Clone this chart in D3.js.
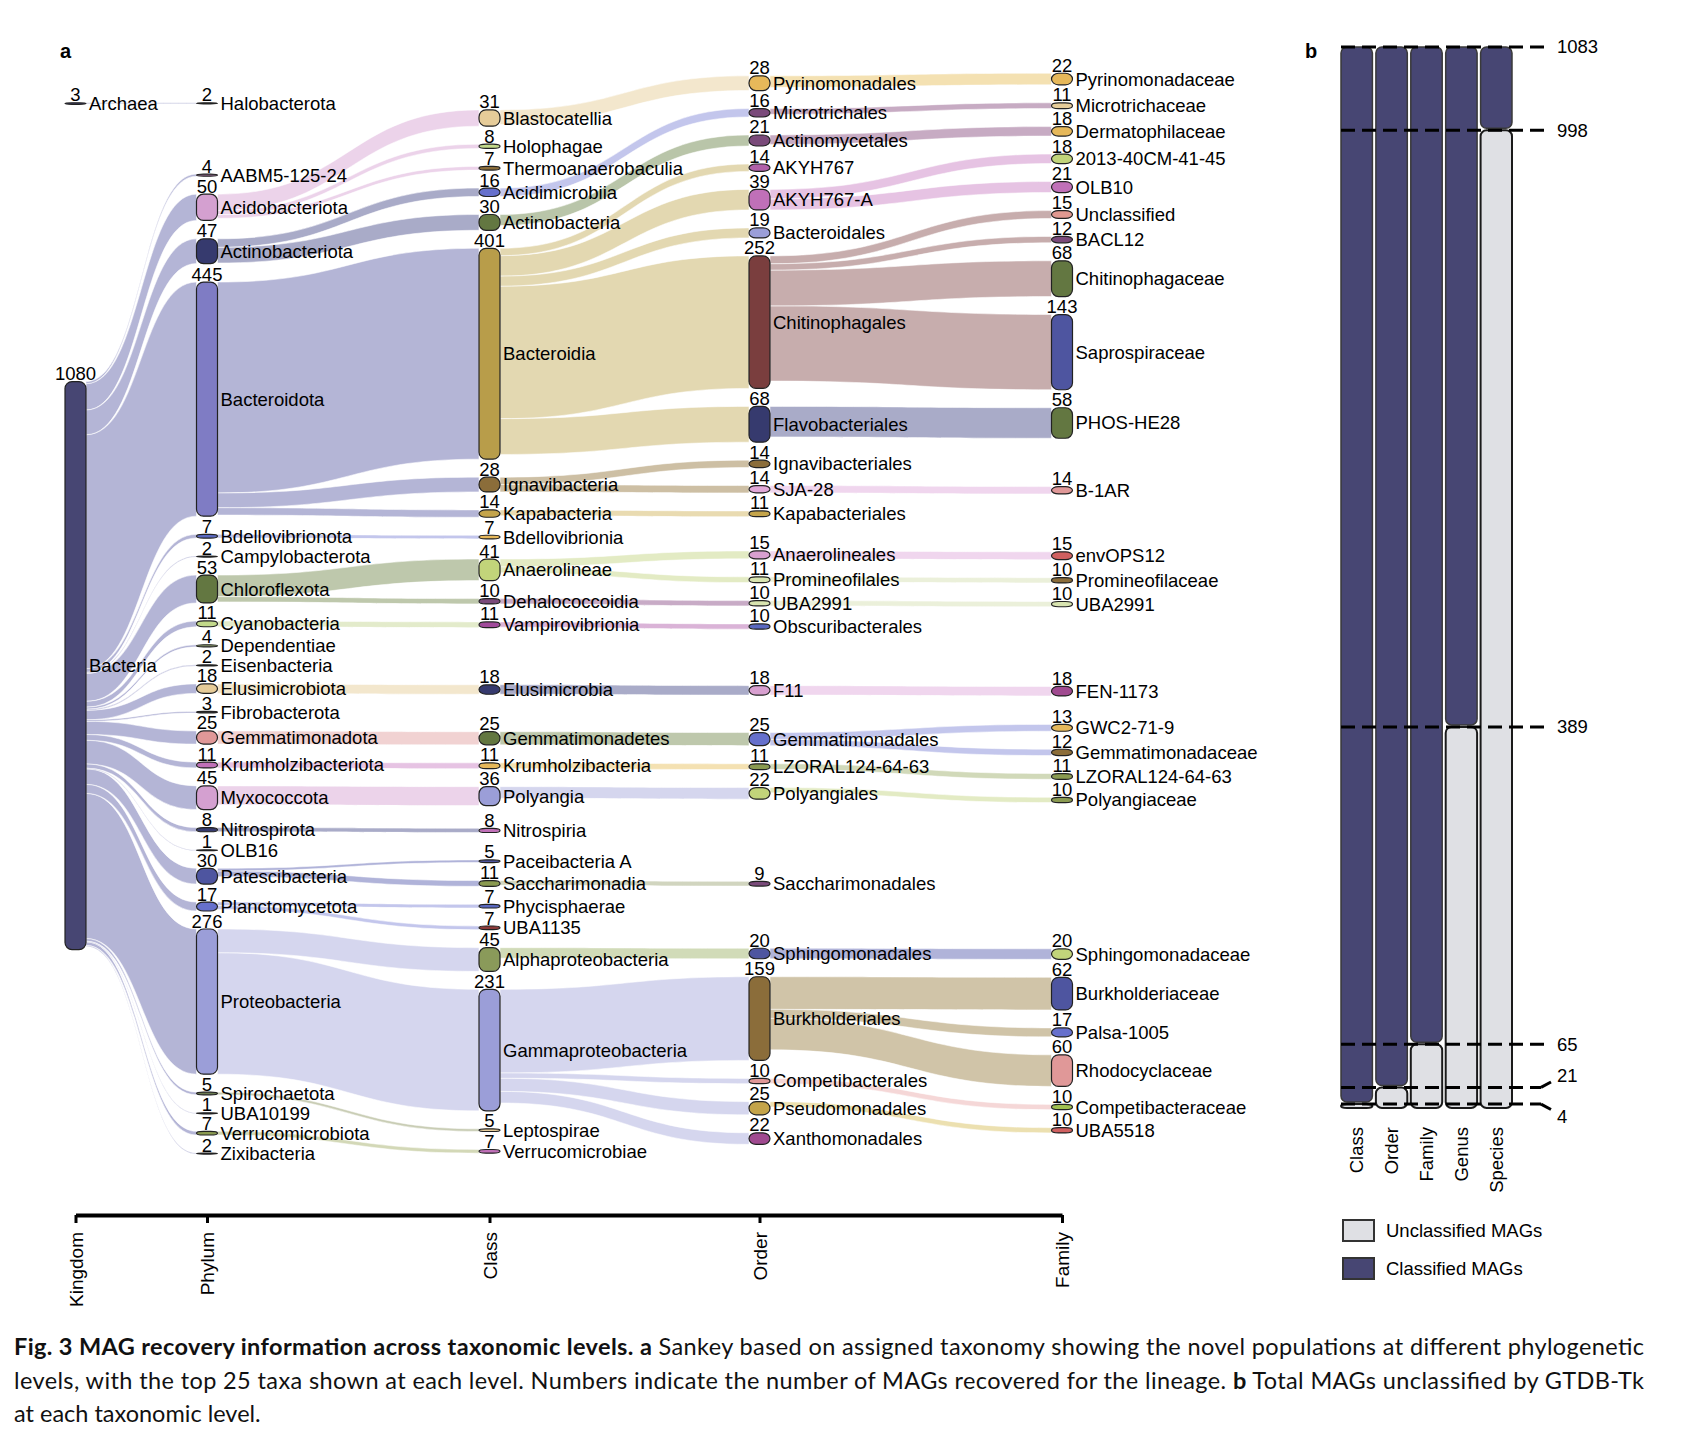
<!DOCTYPE html>
<html>
<head>
<meta charset="utf-8">
<script src="https://cdn.jsdelivr.net/npm/d3@7"></script>
<style>
  body { margin: 0; background: #fff; }
  svg { display: block; }
</style>
</head>
<body>
<svg id="chart" width="1708" height="1444"></svg>
<script>
// ---------------- DATA ----------------
const levels = ["Kingdom", "Phylum", "Class", "Order", "Family"];

const kingdomNames = ["Archaea", "Bacteria"];
const kingdomValues = [3, 1080];

const phylumNames = ["Halobacterota", "AABM5-125-24", "Acidobacteriota", "Actinobacteriota", "Bacteroidota",
  "Bdellovibrionota", "Campylobacterota", "Chloroflexota", "Cyanobacteria", "Dependentiae", "Eisenbacteria",
  "Elusimicrobiota", "Fibrobacterota", "Gemmatimonadota", "Krumholzibacteriota", "Myxococcota", "Nitrospirota",
  "OLB16", "Patescibacteria", "Planctomycetota", "Proteobacteria", "Spirochaetota", "UBA10199",
  "Verrucomicrobiota", "Zixibacteria"];
const phylumValues = [2, 4, 50, 47, 445, 7, 2, 53, 11, 4, 2, 18, 3, 25, 11, 45, 8, 1, 30, 17, 276, 5, 1, 7, 2];
const phylumParents = ["Archaea", "Bacteria", "Bacteria", "Bacteria", "Bacteria", "Bacteria", "Bacteria",
  "Bacteria", "Bacteria", "Bacteria", "Bacteria", "Bacteria", "Bacteria", "Bacteria", "Bacteria", "Bacteria",
  "Bacteria", "Bacteria", "Bacteria", "Bacteria", "Bacteria", "Bacteria", "Bacteria", "Bacteria", "Bacteria"];

const classNames = ["Blastocatellia", "Holophagae", "Thermoanaerobaculia", "Acidimicrobiia", "Actinobacteria",
  "Bacteroidia", "Ignavibacteria", "Kapabacteria", "Bdellovibrionia", "Anaerolineae", "Dehalococcoidia",
  "Vampirovibrionia", "Elusimicrobia", "Gemmatimonadetes", "Krumholzibacteria", "Polyangia", "Nitrospiria",
  "Paceibacteria A", "Saccharimonadia", "Phycisphaerae", "UBA1135", "Alphaproteobacteria",
  "Gammaproteobacteria", "Leptospirae", "Verrucomicrobiae"];
const classValues = [31, 8, 7, 16, 30, 401, 28, 14, 7, 41, 10, 11, 18, 25, 11, 36, 8, 5, 11, 7, 7, 45, 231, 5, 7];
const classParents = ["Acidobacteriota", "Acidobacteriota", "Acidobacteriota", "Actinobacteriota",
  "Actinobacteriota", "Bacteroidota", "Bacteroidota", "Bacteroidota", "Bdellovibrionota", "Chloroflexota",
  "Chloroflexota", "Cyanobacteria", "Elusimicrobiota", "Gemmatimonadota", "Krumholzibacteriota", "Myxococcota",
  "Nitrospirota", "Patescibacteria", "Patescibacteria", "Planctomycetota", "Planctomycetota", "Proteobacteria",
  "Proteobacteria", "Spirochaetota", "Verrucomicrobiota"];

const orderNames = ["Pyrinomonadales", "Microtrichales", "Actinomycetales", "AKYH767", "AKYH767-A",
  "Bacteroidales", "Chitinophagales", "Flavobacteriales", "Ignavibacteriales", "SJA-28", "Kapabacteriales",
  "Anaerolineales", "Promineofilales", "UBA2991", "Obscuribacterales", "F11", "Gemmatimonadales",
  "LZORAL124-64-63", "Polyangiales", "Saccharimonadales", "Sphingomonadales", "Burkholderiales",
  "Competibacterales", "Pseudomonadales", "Xanthomonadales"];
const orderValues = [28, 16, 21, 14, 39, 19, 252, 68, 14, 14, 11, 15, 11, 10, 10, 18, 25, 11, 22, 9, 20, 159, 10, 25, 22];
const orderParents = ["Blastocatellia", "Acidimicrobiia", "Actinobacteria", "Bacteroidia", "Bacteroidia",
  "Bacteroidia", "Bacteroidia", "Bacteroidia", "Ignavibacteria", "Ignavibacteria", "Kapabacteria",
  "Anaerolineae", "Anaerolineae", "Dehalococcoidia", "Vampirovibrionia", "Elusimicrobia", "Gemmatimonadetes",
  "Krumholzibacteria", "Polyangia", "Saccharimonadia", "Alphaproteobacteria", "Gammaproteobacteria",
  "Gammaproteobacteria", "Gammaproteobacteria", "Gammaproteobacteria"];

const familyNames = ["Pyrinomonadaceae", "Microtrichaceae", "Dermatophilaceae", "2013-40CM-41-45", "OLB10",
  "Unclassified", "BACL12", "Chitinophagaceae", "Saprospiraceae", "PHOS-HE28", "B-1AR", "envOPS12",
  "Promineofilaceae", "UBA2991", "FEN-1173", "GWC2-71-9", "Gemmatimonadaceae", "LZORAL124-64-63",
  "Polyangiaceae", "Sphingomonadaceae", "Burkholderiaceae", "Palsa-1005", "Rhodocyclaceae",
  "Competibacteraceae", "UBA5518"];
const familyValues = [22, 11, 18, 18, 21, 15, 12, 68, 143, 58, 14, 15, 10, 10, 18, 13, 12, 11, 10, 20, 62, 17, 60, 10, 10];
const familyParents = ["Pyrinomonadales", "Microtrichales", "Actinomycetales", "AKYH767-A", "AKYH767-A",
  "Chitinophagales", "Chitinophagales", "Chitinophagales", "Chitinophagales", "Flavobacteriales", "SJA-28",
  "Anaerolineales", "Promineofilales", "UBA2991", "F11", "Gemmatimonadales", "Gemmatimonadales",
  "LZORAL124-64-63", "Polyangiales", "Sphingomonadales", "Burkholderiales", "Burkholderiales",
  "Burkholderiales", "Competibacterales", "Pseudomonadales"];

// panel b
const bLevels = ["Class", "Order", "Family", "Genus", "Species"];
const bUnclassified = [4, 21, 65, 389, 998];
const bTotal = 1083;
const bGuides = [1083, 998, 389, 65, 21, 4];
const legendLabels = ["Unclassified MAGs", "Classified MAGs"];

const captionLines = [
  [["Fig. 3 MAG recovery information across taxonomic levels. a", true], [" Sankey based on assigned taxonomy showing the novel populations at different phylogenetic", false]],
  [["levels, with the top 25 taxa shown at each level. Numbers indicate the number of MAGs recovered for the lineage. ", false], ["b", true], [" Total MAGs unclassified by GTDB-Tk", false]],
  [["at each taxonomic level.", false]]
];

// ---------------- STYLES ----------------
const nodeColors = {
  "Kingdom:Archaea": "#3b3b63", "Kingdom:Bacteria": "#474673",
  "Phylum:Halobacterota": "#444", "Phylum:AABM5-125-24": "#b07aa8", "Phylum:Acidobacteriota": "#d4a0d0",
  "Phylum:Actinobacteriota": "#363a6e", "Phylum:Bacteroidota": "#7f7cc4", "Phylum:Bdellovibrionota": "#5a68c0",
  "Phylum:Campylobacterota": "#555", "Phylum:Chloroflexota": "#637741", "Phylum:Cyanobacteria": "#c2d98a",
  "Phylum:Dependentiae": "#8a9a6a", "Phylum:Eisenbacteria": "#555", "Phylum:Elusimicrobiota": "#e6cc99",
  "Phylum:Fibrobacterota": "#555", "Phylum:Gemmatimonadota": "#e09898", "Phylum:Krumholzibacteriota": "#c070b8",
  "Phylum:Myxococcota": "#d4a0d0", "Phylum:Nitrospirota": "#363a6e", "Phylum:OLB16": "#555",
  "Phylum:Patescibacteria": "#4e55a0", "Phylum:Planctomycetota": "#6670cc", "Phylum:Proteobacteria": "#9b9ed8",
  "Phylum:Spirochaetota": "#6a7a50", "Phylum:UBA10199": "#555", "Phylum:Verrucomicrobiota": "#8a9a50",
  "Phylum:Zixibacteria": "#555",
  "Class:Blastocatellia": "#e6cc99", "Class:Holophagae": "#c2d98a", "Class:Thermoanaerobaculia": "#8b6d3a",
  "Class:Acidimicrobiia": "#6670cc", "Class:Actinobacteria": "#637741", "Class:Bacteroidia": "#b89d4a",
  "Class:Ignavibacteria": "#8b6d3a", "Class:Kapabacteria": "#c4a44a", "Class:Bdellovibrionia": "#e6b85a",
  "Class:Anaerolineae": "#c2d47a", "Class:Dehalococcoidia": "#7a4a7a", "Class:Vampirovibrionia": "#a04a9a",
  "Class:Elusimicrobia": "#363a6e", "Class:Gemmatimonadetes": "#637741", "Class:Krumholzibacteria": "#e6b85a",
  "Class:Polyangia": "#9b9ed8", "Class:Nitrospiria": "#c070b8", "Class:Paceibacteria A": "#4e55a0",
  "Class:Saccharimonadia": "#8a9a50", "Class:Phycisphaerae": "#5a68c0", "Class:UBA1135": "#8b3a3a",
  "Class:Alphaproteobacteria": "#8a9a5a", "Class:Gammaproteobacteria": "#9b9ed8", "Class:Leptospirae": "#e6cc99",
  "Class:Verrucomicrobiae": "#c070b8",
  "Order:Pyrinomonadales": "#e6b85a", "Order:Microtrichales": "#7a4a7a", "Order:Actinomycetales": "#7a4a7a",
  "Order:AKYH767": "#b060a8", "Order:AKYH767-A": "#c070b8", "Order:Bacteroidales": "#9b9ed8",
  "Order:Chitinophagales": "#7a3e3e", "Order:Flavobacteriales": "#363a6e", "Order:Ignavibacteriales": "#8b6d3a",
  "Order:SJA-28": "#e0a8d8", "Order:Kapabacteriales": "#c4a44a", "Order:Anaerolineales": "#d8a0d0",
  "Order:Promineofilales": "#d8e4b0", "Order:UBA2991": "#d8e4b0", "Order:Obscuribacterales": "#5a68c0",
  "Order:F11": "#d8a0d0", "Order:Gemmatimonadales": "#6670cc", "Order:LZORAL124-64-63": "#8a9a50",
  "Order:Polyangiales": "#c2d47a", "Order:Saccharimonadales": "#7a4a7a", "Order:Sphingomonadales": "#4e55a0",
  "Order:Burkholderiales": "#8b6d3a", "Order:Competibacterales": "#e09898", "Order:Pseudomonadales": "#c4a44a",
  "Order:Xanthomonadales": "#a04a90",
  "Family:Pyrinomonadaceae": "#e6b85a", "Family:Microtrichaceae": "#e6cc99", "Family:Dermatophilaceae": "#e6b85a",
  "Family:2013-40CM-41-45": "#c2d47a", "Family:OLB10": "#c070b8", "Family:Unclassified": "#e09890",
  "Family:BACL12": "#7a4a7a", "Family:Chitinophagaceae": "#637741", "Family:Saprospiraceae": "#4e55a0",
  "Family:PHOS-HE28": "#637741", "Family:B-1AR": "#e09898", "Family:envOPS12": "#d06060",
  "Family:Promineofilaceae": "#8b6d3a", "Family:UBA2991": "#d8e4b0", "Family:FEN-1173": "#a04a90",
  "Family:GWC2-71-9": "#e6b85a", "Family:Gemmatimonadaceae": "#8b6d3a", "Family:LZORAL124-64-63": "#8a9a50",
  "Family:Polyangiaceae": "#8a9a50", "Family:Sphingomonadaceae": "#c2d47a", "Family:Burkholderiaceae": "#4e55a0",
  "Family:Palsa-1005": "#6670cc", "Family:Rhodocyclaceae": "#e09898", "Family:Competibacteraceae": "#a0c050",
  "Family:UBA5518": "#d06060"
};
const linkColors = {
  "Kingdom:Archaea": "#b4b5d6", "Kingdom:Bacteria": "#b4b5d6",
  "Phylum:Acidobacteriota": "#ecd3ea", "Phylum:Actinobacteriota": "#a9abc8", "Phylum:Bacteroidota": "#b4b5d6",
  "Phylum:Bdellovibrionota": "#c3c6ec", "Phylum:Chloroflexota": "#bec8ac", "Phylum:Cyanobacteria": "#e3ebcb",
  "Phylum:Elusimicrobiota": "#f3e7cd", "Phylum:Gemmatimonadota": "#f1d2d2", "Phylum:Krumholzibacteriota": "#e6c3e3",
  "Phylum:Myxococcota": "#ecd3ea", "Phylum:Nitrospirota": "#a9abc8", "Phylum:Patescibacteria": "#b0b3d9",
  "Phylum:Planctomycetota": "#c3c6ec", "Phylum:Proteobacteria": "#d5d6ee", "Phylum:Spirochaetota": "#c9cdb5",
  "Phylum:Verrucomicrobiota": "#d3d8b7",
  "Class:Blastocatellia": "#f3e7cd", "Class:Acidimicrobiia": "#c3c6ec", "Class:Actinobacteria": "#b9c5a9",
  "Class:Bacteroidia": "#e3d8b1", "Class:Ignavibacteria": "#cdbfa4", "Class:Kapabacteria": "#e9dbb1",
  "Class:Anaerolineae": "#e3ebc4", "Class:Dehalococcoidia": "#c8abc6", "Class:Vampirovibrionia": "#dab3d7",
  "Class:Elusimicrobia": "#a9abc8", "Class:Gemmatimonadetes": "#bec8ac", "Class:Krumholzibacteria": "#f4e1b2",
  "Class:Polyangia": "#d5d6ee", "Class:Saccharimonadia": "#d1d5bf", "Class:Alphaproteobacteria": "#d1dbb8",
  "Class:Gammaproteobacteria": "#d5d6ee",
  "Order:Pyrinomonadales": "#f4e1b2", "Order:Microtrichales": "#c7abc3", "Order:Actinomycetales": "#c7abc3",
  "Order:AKYH767-A": "#e6c3e3", "Order:Chitinophagales": "#c7adad", "Order:Flavobacteriales": "#a9abc8",
  "Order:SJA-28": "#f0d6ee", "Order:Anaerolineales": "#f0d6ee", "Order:Promineofilales": "#ebf0da",
  "Order:UBA2991": "#ebf0da", "Order:F11": "#f0d6ee", "Order:Gemmatimonadales": "#c3c6ec",
  "Order:LZORAL124-64-63": "#d1d9b9", "Order:Polyangiales": "#e3ebc4", "Order:Sphingomonadales": "#b0b3d9",
  "Order:Burkholderiales": "#d0c4a8", "Order:Competibacterales": "#f5d7d7", "Order:Pseudomonadales": "#ece0b0"
};
const FONT = "'Liberation Sans', Arial, Helvetica, sans-serif";
const FS = 18.5;

// ---------------- SANKEY LAYOUT ----------------
const svg = d3.select("#chart");
svg.append("rect").attr("width", 1708).attr("height", 1444).attr("fill", "#fff");

const xLevel = d3.scaleLinear().domain([0, 1, 2, 3, 4]).range([75.5, 207, 489.5, 759.5, 1062]);
const ky = d3.scaleLinear().domain([0, 1080]).range([0, 568]);
const NODE_W = 21;
const LAYOUT = { py: 18, y0: 40, y1: 1215, iterations: 2 };

const colSpecs = [
  [kingdomNames, kingdomValues, null],
  [phylumNames, phylumValues, phylumParents],
  [classNames, classValues, classParents],
  [orderNames, orderValues, orderParents],
  [familyNames, familyValues, familyParents]
];
const columns = colSpecs.map(([names, values, parents], ci) => names.map((name, i) => ({
  id: levels[ci] + ":" + name, name, value: values[i], col: ci, index: i,
  parentName: parents ? parents[i] : null, sourceLinks: [], targetLinks: []
})));
const byId = new Map();
columns.flat().forEach(n => byId.set(n.id, n));
const links = [];
columns.forEach((col, ci) => {
  if (ci === 0) return;
  col.forEach(n => {
    const s = byId.get(levels[ci - 1] + ":" + n.parentName);
    const l = { source: s, target: n, value: n.value, index: links.length };
    links.push(l); s.sourceLinks.push(l); n.targetLinks.push(l);
  });
});
columns.flat().forEach(n => {
  n.x0 = xLevel(n.col) - NODE_W / 2; n.x1 = n.x0 + NODE_W; n.h = ky(n.value);
  n.sourceLinks.sort((a, b) => a.target.index - b.target.index);
  n.targetLinks.sort((a, b) => a.source.index - b.source.index);
});
links.forEach(l => l.width = ky(l.value));

(function computeLayout({ py: PY, y0: Y0, y1: Y1, iterations }) {
  columns.forEach(nodes => {
    let y = Y0;
    nodes.forEach(n => { n.y0 = y; n.y1 = y + n.h; y = n.y1 + PY; });
    const shift = Y1 - (y - PY);
    nodes.forEach(n => { n.y0 += shift; n.y1 += shift; });
  });
  const targetTop = (source, target) => {
    let y = source.y0 - (source.sourceLinks.length - 1) * PY / 2;
    for (const l of source.sourceLinks) { if (l.target === target) break; y += l.width + PY; }
    return y;
  };
  const sourceTop = (source, target) => {
    let y = target.y0 - (target.targetLinks.length - 1) * PY / 2;
    for (const l of source.sourceLinks) { if (l.target === target) break; y -= l.width; }
    return y;
  };
  const t2b = (nodes, y, i, a) => {
    for (; i < nodes.length; ++i) { const n = nodes[i]; const dy = (y - n.y0) * a; if (dy > 1e-6) { n.y0 += dy; n.y1 += dy; } y = n.y1 + PY; }
  };
  const b2t = (nodes, y, i, a) => {
    for (; i >= 0; --i) { const n = nodes[i]; const dy = (n.y1 - y) * a; if (dy > 1e-6) { n.y0 -= dy; n.y1 -= dy; } y = n.y0 - PY; }
  };
  const resolve = (nodes, a) => {
    const i = nodes.length >> 1; const s = nodes[i];
    b2t(nodes, s.y0 - PY, i - 1, a); t2b(nodes, s.y1 + PY, i + 1, a);
    b2t(nodes, Y1, nodes.length - 1, a); t2b(nodes, Y0, 0, a);
  };
  for (let it = 0; it < iterations; ++it) {
    const alpha = Math.pow(0.99, it);
    const beta = Math.max(1 - alpha, (it + 1) / iterations);
    for (let c = columns.length - 2; c >= 0; --c) {
      for (const n of columns[c]) {
        let y = 0, w = 0;
        for (const l of n.sourceLinks) { y += sourceTop(n, l.target) * l.value; w += l.value; }
        if (!(w > 0)) continue;
        const dy = (y / w - n.y0) * alpha; n.y0 += dy; n.y1 += dy;
      }
      resolve(columns[c], beta);
    }
    for (let c = 1; c < columns.length; ++c) {
      for (const n of columns[c]) {
        let y = 0, w = 0;
        for (const l of n.targetLinks) { y += targetTop(l.source, n) * l.value; w += l.value; }
        if (!(w > 0)) continue;
        const dy = (y / w - n.y0) * alpha; n.y0 += dy; n.y1 += dy;
      }
      resolve(columns[c], beta);
    }
  }
  columns.flat().forEach(n => {
    let a = n.y0, b = n.y0;
    n.sourceLinks.forEach(l => { l.ys = a; a += l.width; });
    n.targetLinks.forEach(l => { l.yt = b; b += l.width; });
  });
})(LAYOUT);

// ---------------- DRAW SANKEY ----------------
const gA = svg.append("g");
function band(l) {
  const x0 = l.source.x1, x1 = l.target.x0, xm = (x0 + x1) / 2;
  const w = Math.max(0.8, l.width);
  const p = d3.path();
  p.moveTo(x0, l.ys);
  p.bezierCurveTo(xm, l.ys, xm, l.yt, x1, l.yt);
  p.lineTo(x1, l.yt + w);
  p.bezierCurveTo(xm, l.yt + w, xm, l.ys + w, x0, l.ys + w);
  p.closePath();
  return p.toString();
}
gA.append("g").selectAll("path")
  .data(links.slice().sort((a, b) => b.value - a.value))
  .join("path")
  .attr("d", band)
  .attr("fill", l => linkColors[l.source.id] || "#ccc")
  .attr("stroke", "#fff").attr("stroke-width", 0.6).attr("stroke-opacity", 0.9);

const nodeG = gA.append("g").selectAll("g").data(columns.flat()).join("g");
nodeG.append("rect")
  .attr("x", n => n.x0).attr("y", n => n.y0)
  .attr("width", NODE_W).attr("height", n => Math.max(1, n.y1 - n.y0))
  .attr("rx", 7)
  .attr("fill", n => nodeColors[n.id] || "#888")
  .attr("stroke", "#222").attr("stroke-width", 1.2);
nodeG.append("text")
  .attr("x", n => (n.x0 + n.x1) / 2).attr("y", n => n.y0 - 1.5)
  .attr("text-anchor", "middle")
  .attr("font-family", FONT).attr("font-size", FS).attr("fill", "#000")
  .text(n => n.value);
nodeG.append("text")
  .attr("x", n => n.x1 + 3).attr("y", n => (n.y0 + n.y1) / 2)
  .attr("dy", "0.35em")
  .attr("font-family", FONT).attr("font-size", FS).attr("fill", "#000")
  .text(n => n.name);

// axis
const axis = d3.axisBottom(xLevel).tickValues([0, 1, 2, 3, 4]).tickFormat(i => levels[i])
  .tickSizeInner(8).tickSizeOuter(0);
const gAxis = svg.append("g").attr("transform", "translate(0,1215)").call(axis);
gAxis.select(".domain").attr("stroke", "#000").attr("stroke-width", 4);
gAxis.selectAll(".tick line").attr("stroke", "#000").attr("stroke-width", 3);
gAxis.selectAll(".tick text")
  .attr("transform", "rotate(-90)").attr("text-anchor", "end")
  .attr("x", -17).attr("y", 0).attr("dy", "0.35em")
  .attr("font-family", FONT).attr("font-size", 19).attr("fill", "#000");

// panel letters
svg.append("text").attr("x", 60).attr("y", 58).attr("font-family", FONT).attr("font-weight", "bold")
  .attr("font-size", 20).text("a");
svg.append("text").attr("x", 1305).attr("y", 58).attr("font-family", FONT).attr("font-weight", "bold")
  .attr("font-size", 20).text("b");

// ---------------- PANEL B ----------------
const xB = d3.scaleBand().domain(bLevels).range([1341, 1512]).paddingInner(0.1);
const yB = d3.scaleLinear().domain([0, bTotal]).range([1108, 47]);
const gB = svg.append("g");
bLevels.forEach((lv, i) => {
  const u = bUnclassified[i];
  gB.append("rect").attr("x", xB(lv)).attr("y", yB(bTotal))
    .attr("width", xB.bandwidth()).attr("height", yB(u) - yB(bTotal) - 2)
    .attr("rx", 6).attr("fill", "#474673").attr("stroke", "#3a3a3a").attr("stroke-width", 1.5);
  gB.append("rect").attr("x", xB(lv)).attr("y", yB(u))
    .attr("width", xB.bandwidth()).attr("height", yB(0) - yB(u))
    .attr("rx", 6).attr("fill", "#dfe0e4").attr("stroke", "#1a1a1a").attr("stroke-width", 2);
  gB.append("text")
    .attr("transform", `translate(${xB(lv) + xB.bandwidth() / 2},1127) rotate(-90)`)
    .attr("text-anchor", "end").attr("dy", "0.35em")
    .attr("font-family", FONT).attr("font-size", FS).text(lv);
});
const guideOffset = { 21: -12, 4: 12 };
bGuides.forEach(v => {
  const y = yB(v);
  const off = guideOffset[v] || 0;
  gB.append("line").attr("x1", 1341).attr("x2", off ? 1541 : 1549).attr("y1", y).attr("y2", y)
    .attr("stroke", "#000").attr("stroke-width", 3).attr("stroke-dasharray", "14,7");
  if (off) {
    gB.append("line").attr("x1", 1541).attr("x2", 1551).attr("y1", y).attr("y2", y + off * 0.45)
      .attr("stroke", "#000").attr("stroke-width", 3);
  }
  gB.append("text").attr("x", 1557).attr("y", y + off).attr("dy", "0.35em")
    .attr("font-family", FONT).attr("font-size", FS).text(v);
});
legendLabels.forEach((lab, i) => {
  const y = 1220 + i * 38;
  gB.append("rect").attr("x", 1343).attr("y", y).attr("width", 31).attr("height", 21)
    .attr("fill", i === 0 ? "#dfe0e4" : "#474673").attr("stroke", "#333").attr("stroke-width", 2);
  gB.append("text").attr("x", 1386).attr("y", y + 10.5).attr("dy", "0.35em")
    .attr("font-family", FONT).attr("font-size", FS).text(lab);
});

// ---------------- CAPTION ----------------
const capY = [1355, 1389, 1422];
const capLen = [1630, 1630, null];
captionLines.forEach((parts, i) => {
  const t = svg.append("text").attr("x", 14).attr("y", capY[i])
    .attr("font-family", "Lato, 'Open Sans', sans-serif").attr("font-size", 23.5).attr("fill", "#111");
  if (capLen[i]) t.attr("textLength", capLen[i]).attr("lengthAdjust", "spacing");
  parts.forEach(([s, b]) => t.append("tspan").attr("font-weight", b ? "bold" : "normal").text(s));
});
</script>
</body>
</html>
